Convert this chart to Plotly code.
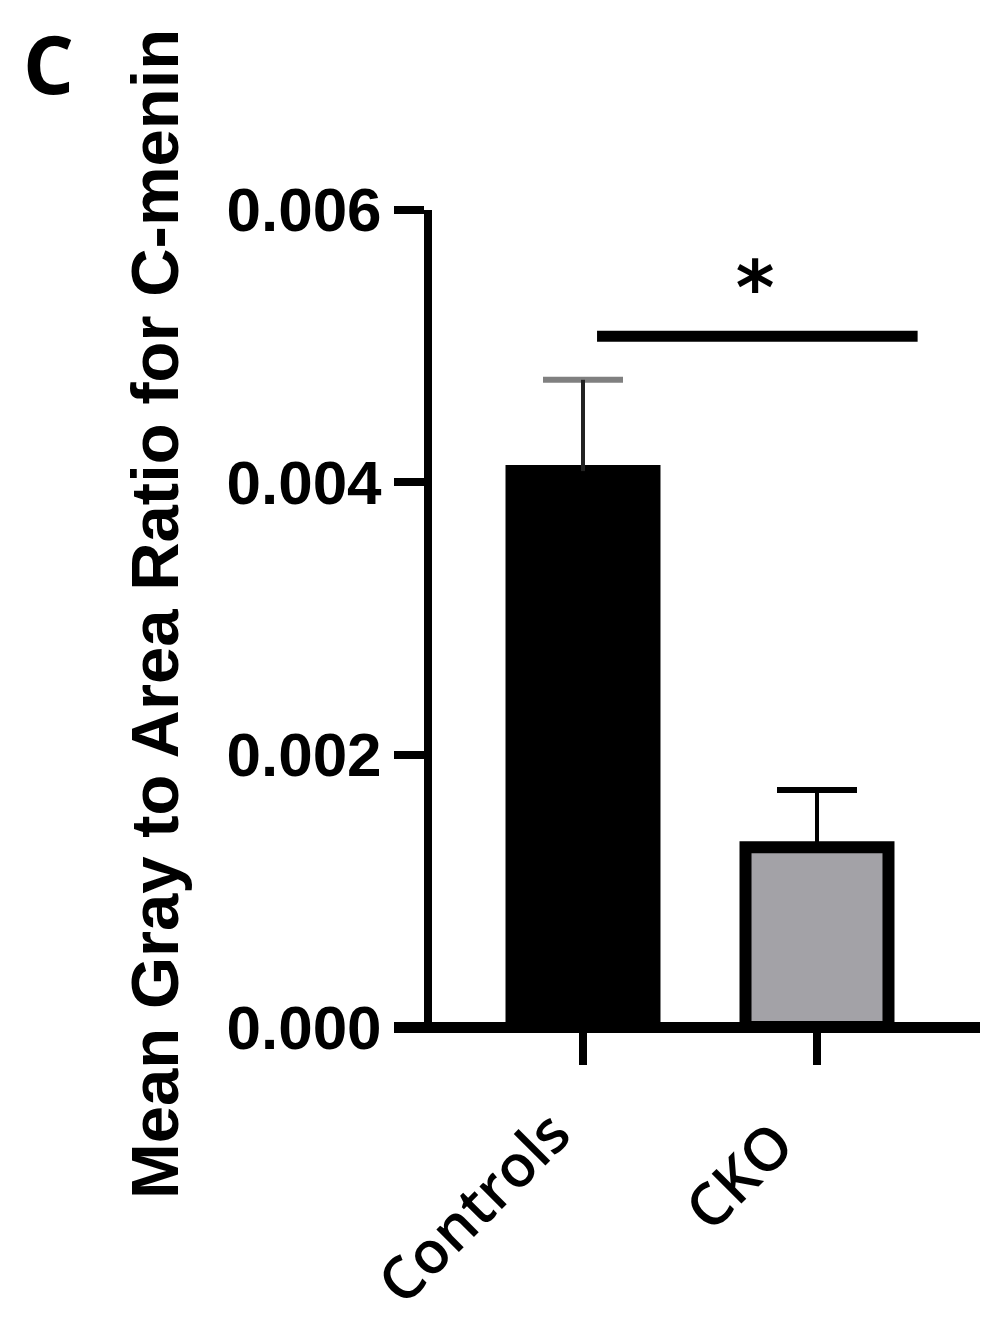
import plotly.graph_objects as go

# the page body adds an 8px margin, so the figure is drawn 8px in from the corner
OFF = 8
W, H = 1007 - 2 * OFF, 1334 - 2 * OFF

# data
groups = ["Controls", "CKO\u00a0"]
means = [0.00408, 0.00132]
sems = [0.00067, 0.00042]
bar_colors = ["#000000", "#a3a2a7"]
cap_colors = ["#808080", "#000000"]
stem_colors = ["#222222", "#000000"]

y_ticks = [0.000, 0.002, 0.004, 0.006]
y_ticktext = ["0.000", "0.002", "0.004", "0.006"]

sig_x = [0.06, 1.43]
sig_y = 0.00507
star_x = 0.735
star_y = 0.00537

ytitle = "Mean Gray to Area Ratio for C-menin"

cap_half = 40 / 234  # cap half width in category units


def px_x(p):
    return (p - OFF) / W


def px_y(p):
    return 1 - (p - OFF) / H


fig = go.Figure()

for i, g in enumerate(groups):
    fig.add_trace(go.Bar(
        x=[i], y=[means[i]], width=0.611,
        marker=dict(color=bar_colors[i], line=dict(color="black", width=12)),
        showlegend=False,
    ))
    top = means[i] + sems[i]
    # error bar: cap + stem (upper side only)
    fig.add_trace(go.Scatter(
        x=[i - cap_half, i + cap_half], y=[top, top], mode="lines",
        line=dict(color=cap_colors[i], width=6), showlegend=False, hoverinfo="skip",
    ))
    fig.add_trace(go.Scatter(
        x=[i, i], y=[means[i], top], mode="lines",
        line=dict(color=stem_colors[i], width=4), showlegend=False, hoverinfo="skip",
    ))

fig.add_trace(go.Scatter(
    x=sig_x, y=[sig_y, sig_y], mode="lines",
    line=dict(color="black", width=11), showlegend=False,
))
fig.add_trace(go.Scatter(
    x=[star_x], y=[star_y], mode="text", text=["*"],
    textfont=dict(family="DejaVu Sans", size=74, color="black", weight="bold"),
    textposition="middle center", showlegend=False,
))

fig.update_layout(
    width=W, height=H,
    margin=dict(l=0, r=0, t=0, b=0, autoexpand=False),
    paper_bgcolor="white", plot_bgcolor="white",
    showlegend=False,
    xaxis=dict(
        domain=[px_x(394), px_x(980)],
        range=[-(583 - 394) / 234, 1 + (980 - 817) / 234],
        anchor="free", position=px_y(1027), automargin=False,
        tickvals=[0, 1], ticktext=groups, tickangle=-45,
        tickfont=dict(family="Open Sans", size=59, color="black", weight=600),
        ticklabelstandoff=10, ticklabelshift=-30,
        showline=True, linecolor="black", linewidth=11,
        ticks="outside", ticklen=32, tickwidth=8, tickcolor="black",
        showgrid=False, zeroline=False,
    ),
    yaxis=dict(
        domain=[px_y(1027), px_y(209.5)],
        range=[0, 0.006],
        anchor="free", position=px_x(428), automargin=False,
        tickvals=y_ticks, ticktext=y_ticktext,
        tickfont=dict(family="Liberation Sans", size=62, color="black", weight="bold"),
        ticklabelstandoff=0,
        showline=True, linecolor="black", linewidth=8,
        ticks="outside", ticklen=30, tickwidth=8, tickcolor="black",
        showgrid=False, zeroline=False,
    ),
    annotations=[
        dict(text=ytitle, x=px_x(155), y=px_y(614), xref="paper", yref="paper",
             xanchor="center", yanchor="middle",
             textangle=-90, showarrow=False,
             font=dict(family="Liberation Sans", size=67, color="black", weight="bold")),
        dict(text="C", x=px_x(48), y=px_y(63), xref="paper", yref="paper",
             xanchor="center", yanchor="middle", showarrow=False,
             font=dict(family="Open Sans", size=80, color="black", weight="bold")),
    ],
)

fig.write_html("out.html")
